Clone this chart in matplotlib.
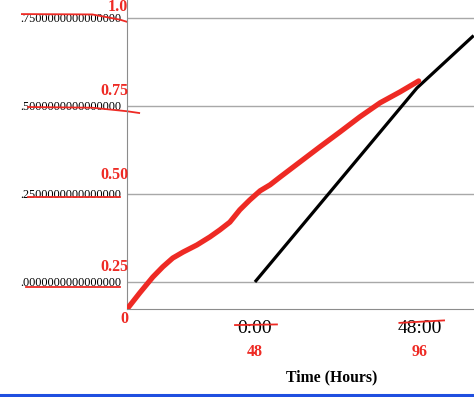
import numpy as np
import matplotlib
matplotlib.use("Agg")
import matplotlib.pyplot as plt
from matplotlib.lines import Line2D

# data (x in hours, y in original axis units)
black_x = [0.0, 47.1, 63.6]
black_y = [0.0, 0.551, 0.700]

red_x = [-37.2, -33.5, -29.7, -26.8, -23.9, -20.9, -16.9, -13.1, -10.2, -7.3, -4.4,
         -1.5, 1.5, 4.4, 7.3, 13.1, 18.9, 24.7, 30.5, 36.4, 42.2, 47.6]
red_y = [-0.077, -0.031, 0.014, 0.043, 0.068, 0.085, 0.105, 0.128, 0.148, 0.170, 0.205,
         0.233, 0.259, 0.276, 0.298, 0.341, 0.384, 0.426, 0.469, 0.509, 0.540, 0.571]

y_ticks = [0.0, 0.25, 0.5, 0.75]
y_labels = [".0000000000000000", ".2500000000000000", ".5000000000000000", ".7500000000000000"]
x_ticks = [0, 48]
x_labels = ["0:00", "48:00"]

# hand written corrections
red_ylabels = ["0", "0.25", "0.50", "0.75", "1.0"]
red_ylabel_pos = [-0.105, 0.043, 0.304, 0.543, 0.781]
red_xlabels = ["48", "96"]

RED = '#ee2a24'
serif = ['Liberation Serif', 'DejaVu Serif']

fig = plt.figure(figsize=(4.74, 3.97), dpi=100)
ax = fig.add_axes([0.268, 0.2217, 0.732, 0.7783])

ax.set_xlim(-37.2, 63.7)
ax.set_ylim(-0.0767, 0.801)

for v in y_ticks:
    ax.axhline(v, color='#a8a8a8', linewidth=1.0, zorder=1)

ax.plot(black_x, black_y, color='black', linewidth=2.3, solid_capstyle='butt', zorder=3)
ax.plot(red_x, red_y, color=RED, linewidth=3.8, solid_capstyle='round',
        solid_joinstyle='round', zorder=4)

ax.set_yticks(y_ticks)
ax.set_yticklabels(y_labels, fontfamily=serif, fontsize=8.8)
ax.set_xticks(x_ticks)
ax.set_xticklabels(x_labels, fontfamily=serif, fontsize=14)
ax.tick_params(axis='y', length=0, pad=4.5)
ax.tick_params(axis='x', length=0, pad=8)

for s in ['top', 'right']:
    ax.spines[s].set_visible(False)
ax.spines['left'].set_color('#8c8c8c')
ax.spines['bottom'].set_color('#8c8c8c')

ax.set_xlabel("Time (Hours)", fontfamily=serif, fontsize=11.3, fontweight='bold')
ax.xaxis.set_label_coords(0.591, -0.22)
ax.xaxis.label.set_verticalalignment('center')

# red notes on the y axis
ytr = ax.get_yaxis_transform()
for lab, pos in zip(red_ylabels, red_ylabel_pos):
    ax.text(0.003, pos, lab, transform=ytr, ha='right', va='center', color=RED,
            fontfamily=serif, fontsize=11.5, fontweight='bold', clip_on=False)

# strike marks through the old y labels
strikes = [
    ([-0.303, -0.1, -0.02, 0.0], [0.761, 0.760, 0.745, 0.739]),
    ([-0.285, -0.1, 0.0, 0.035], [0.497, 0.495, 0.485, 0.480]),
    ([-0.285, -0.02], [0.241, 0.241]),
    ([-0.29, -0.02], [-0.014, -0.014]),
]
for sx, sy in strikes:
    ax.add_line(Line2D(sx, sy, transform=ytr, color=RED, linewidth=1.3, clip_on=False))

# red notes on the x axis
xtr = ax.get_xaxis_transform()
for lab, pos in zip(red_xlabels, x_ticks):
    ax.text(pos, -0.139, lab, transform=xtr, ha='center', va='center', color=RED,
            fontfamily=serif, fontsize=11.5, fontweight='bold', clip_on=False)
ax.add_line(Line2D([-5.8, 6.4], [-0.052, -0.05], transform=xtr, color=RED,
                   linewidth=1.3, clip_on=False))
ax.add_line(Line2D([42.0, 55.0], [-0.045, -0.037], transform=xtr, color=RED,
                   linewidth=1.3, clip_on=False))

# blue rule at the bottom of the picture
fig.add_artist(Line2D([0, 1], [0.005, 0.005], transform=fig.transFigure,
                      color='#1f4fe0', linewidth=2.2))

fig.savefig("out.png", dpi=100)
